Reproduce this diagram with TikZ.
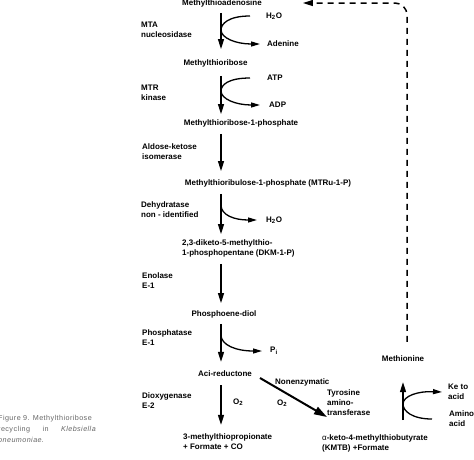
\documentclass[tikz,border=0pt]{standalone}
\usepackage{fontspec}
\setmainfont{Liberation Sans}
\newfontfamily\capfont[LetterSpace=6]{Liberation Sans}
\usetikzlibrary{arrows.meta,calc}
\begin{document}
\begin{tikzpicture}[x=1pt,y=-1pt,
  lbl/.style={font=\bfseries\fontsize{8}{10}\selectfont, inner sep=0pt, align=left},
  arr/.style={line width=1.3pt, -{Triangle[length=10pt,width=6pt]}},
  sarr/.style={line width=1.3pt, -{Triangle[length=9pt,width=5pt]}},
  dsh/.style={line width=1.5pt, dash pattern=on 6pt off 5pt, rounded corners=12pt, -{Triangle[length=10pt,width=6pt]}},
  thick arr/.style={line width=2pt, -{Triangle[length=13pt,width=8pt]}}]
\useasboundingbox (0,0) rectangle (474,459);
\coordinate (col) at (221,0);
\coordinate (dx) at (407,0);
% main compounds
\node[lbl] (mta) at (222,3) {Methylthioadenosine};
\node[lbl] (mtr) at (215.5,63) {Methylthioribose};
\node[lbl] (mtr1p) at (241,123) {Methylthioribose-1-phosphate};
\node[lbl] (mtru) at (268,183) {Methylthioribulose-1-phosphate (MTRu-1-P)};
\node[lbl, anchor=west] (dkm) at (182,248) {2,3-diketo-5-methylthio-\\1-phosphopentane (DKM-1-P)};
\node[lbl] (pene) at (224,314) {Phosphoene-diol};
\node[lbl] (aci) at (225,374) {Aci-reductone};
\node[lbl, anchor=west] (prop) at (183,442) {3-methylthiopropionate\\+ Formate + CO};
\node[lbl, anchor=west] (kmtb) at (322,443) {{\mdseries α}-keto-4-methylthiobutyrate\\(KMTB) +Formate};
\node[lbl] (meth) at (403,359) {Methionine};
% enzyme labels
\node[lbl, anchor=west] (mtan) at (141,30) {MTA\\nucleosidase};
\node[lbl, anchor=west] (mtrk) at (141,93) {MTR\\kinase};
\node[lbl, anchor=west] (aki) at (142,152) {Aldose-ketose\\isomerase};
\node[lbl, anchor=west] (deh) at (141,210) {Dehydratase\\non - identified};
\node[lbl, anchor=west] (eno) at (142,281) {Enolase\\E-1};
\node[lbl, anchor=west] (pho) at (142,338) {Phosphatase\\E-1};
\node[lbl, anchor=west] (dio) at (142,401) {Dioxygenase\\E-2};
\node[lbl, anchor=west] (tyr) at (327,403) {Tyrosine\\amino-\\transferase};
% side compounds
\node[lbl, anchor=west] (h2oa) at (266,16) {H\textsubscript{2}O};
\node[lbl, anchor=west] (aden) at (267,44) {Adenine};
\node[lbl, anchor=west] (atp) at (267,78) {ATP};
\node[lbl, anchor=west] (adp) at (269,105) {ADP};
\node[lbl, anchor=west] (h2ob) at (266,220) {H\textsubscript{2}O};
\node[lbl, anchor=west] (pi) at (270,351) {P\textsubscript{i}};
\node[lbl, anchor=west] (o2a) at (233,402) {O\textsubscript{2}};
\node[lbl, anchor=west] (nonenz) at (275,382) {Nonenzymatic};
\node[lbl, anchor=west] (o2b) at (277,403) {O\textsubscript{2}};
\node[lbl, anchor=west] (keto) at (448,392) {Ke to\\acid};
\node[lbl, anchor=west] (amino) at (449,419) {Amino\\acid};
% caption
\node[anchor=north west, inner sep=0pt, align=left, text=black!60,
      font=\capfont\fontsize{7.2}{11}\selectfont] (cap) at (-2,415)
  {Figure 9. Methylthioribose\\
   \hbox to 98pt{recycling\hfill in\hfill\textit{Klebsiella}}\\
   \textit{pneumoniae}.};
% main arrows
\draw[arr, shorten <=6pt, shorten >=10pt] (mta.south -| col) -- (mtr.north -| col);
\draw[arr, shorten <=9pt, shorten >=5pt] (mtr.south -| col) -- (mtr1p.north -| col);
\draw[arr, shorten <=7pt, shorten >=8pt] (mtr1p.south -| col) -- (mtru.north -| col);
\draw[arr, shorten <=7pt, shorten >=5pt] (mtru.south -| col) -- (dkm.north -| col);
\draw[arr, shorten <=7pt, shorten >=7pt] (dkm.south -| col) -- (pene.north -| col);
\draw[arr, shorten <=6pt, shorten >=9pt] (pene.south -| col) -- (aci.north -| col);
\draw[arr, shorten <=8pt, shorten >=9pt] (aci.south -| col) -- (prop.north -| col);
% side branches
\draw[sarr] ([xshift=-16pt]h2oa.west) .. controls (228,16) and (221,24) .. (221,30)
  .. controls (221,38) and (236,44) .. ([xshift=-7pt]aden.west);
\draw[sarr] ([xshift=-17pt]atp.west) .. controls (228,78) and (221,85) .. (221,91)
  .. controls (221,99) and (236,105) .. ([xshift=-9pt]adp.west);
\coordinate (b4) at (221,205);
\draw[sarr] (b4) .. controls (221,215) and (234,220) .. ([xshift=-9pt]h2ob.west);
\coordinate (b6) at (221,335);
\draw[sarr] (b6) .. controls (221,345) and (236,351) .. ([xshift=-8pt]pi.west);
% nonenzymatic
\coordinate (dgs) at (260,378);
\coordinate (dge) at (327,417);
\draw[thick arr] (dgs) -- (dge);
% methionine formation
\coordinate (ups) at (403,420);
\draw[arr, shorten >=20pt] (ups) -- (meth.south);
\draw[sarr] ([xshift=-17pt]amino.west) .. controls (412,419) and (403,411) .. (403,404)
  .. controls (403,396) and (418,391) .. ([xshift=-6pt]keto.west);
% recycling dashed
\draw[dsh, shorten <=14pt, shorten >=41pt] (meth.north -| dx) |- (mta.east);
\end{tikzpicture}
\end{document}
